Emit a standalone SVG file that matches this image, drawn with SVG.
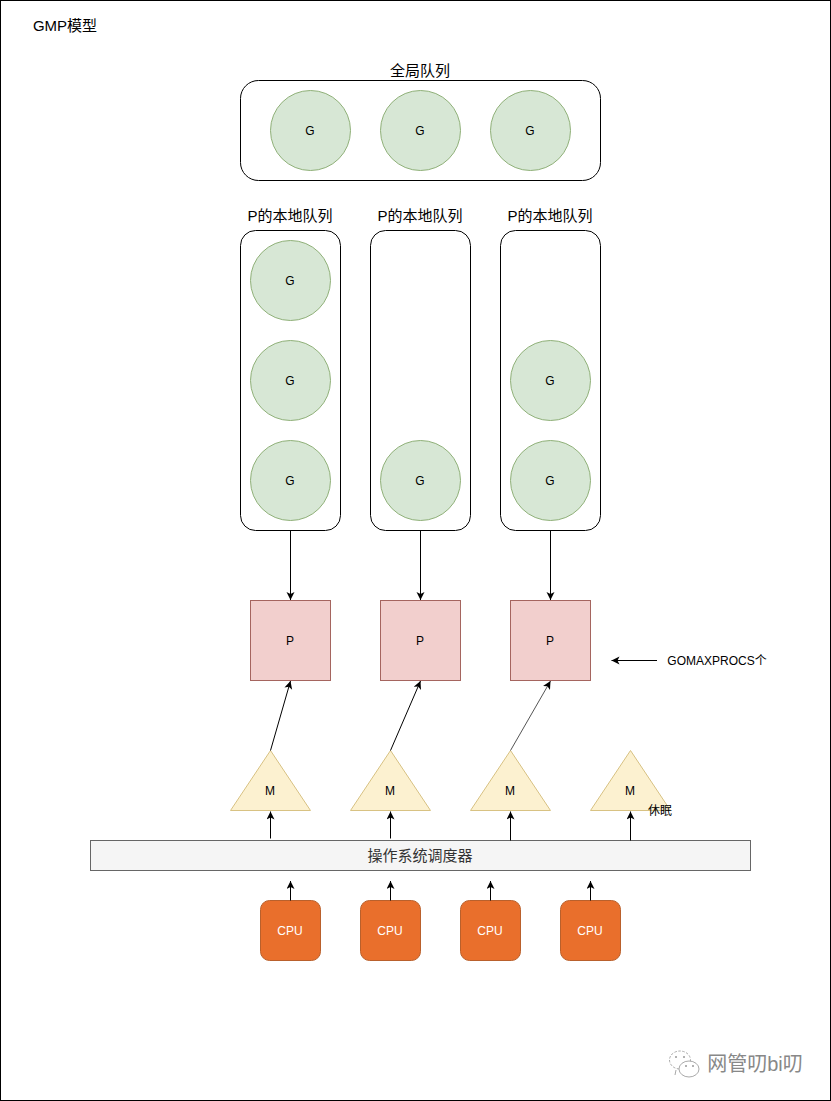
<svg xmlns="http://www.w3.org/2000/svg" width="831" height="1101" viewBox="0 0 831 1101">
<defs>
<style>
text{font-family:"Liberation Sans","Noto Sans CJK SC",sans-serif;fill:#000;text-anchor:middle;font-size:12px}
.t14{font-size:15px}
.box{fill:#fff;stroke:#000;stroke-width:1}
.g{fill:#d7e7d5;stroke:#8fb078;stroke-width:1}
.p{fill:#f2cfcd;stroke:#a5655f;stroke-width:1}
.m{fill:#fcf1d0;stroke:#d8c283;stroke-width:1}
.cpu{fill:#e96f2c;stroke:#b9602c;stroke-width:1}
.c{stroke:#000;stroke-width:1;fill:none;marker-end:url(#a)}
</style>
<marker id="a" markerUnits="userSpaceOnUse" markerWidth="10" markerHeight="10" refX="8" refY="4" orient="auto"><path d="M0 0L8 4L0 8L2 4Z" fill="#000"/></marker>
</defs>
<rect x="0" y="0" width="831" height="1101" fill="#fff"/>
<rect x="0.5" y="0.5" width="830" height="1100" fill="none" stroke="#000"/>
<text id="title" x="65" y="31" class="t14">GMP模型</text>
<g id="global-queue">
<rect class="box" x="240.500" y="80.500" width="360" height="100" rx="18"/>
<text x="420" y="76" class="t14">全局队列</text>
</g>
<g id="global-g1"><circle class="g" cx="310.500" cy="130.500" r="40"/><text x="310" y="135">G</text></g>
<g id="global-g2"><circle class="g" cx="420.500" cy="130.500" r="40"/><text x="420" y="135">G</text></g>
<g id="global-g3"><circle class="g" cx="530.500" cy="130.500" r="40"/><text x="530" y="135">G</text></g>
<g id="local-queue-1"><rect class="box" x="240.500" y="230.500" width="100" height="300" rx="15"/><text x="290" y="221" class="t14">P的本地队列</text></g>
<g id="local-queue-2"><rect class="box" x="370.500" y="230.500" width="100" height="300" rx="15"/><text x="420" y="221" class="t14">P的本地队列</text></g>
<g id="local-queue-3"><rect class="box" x="500.500" y="230.500" width="100" height="300" rx="15"/><text x="550" y="221" class="t14">P的本地队列</text></g>
<g id="q1-g1"><circle class="g" cx="290.500" cy="280.500" r="40"/><text x="290" y="285">G</text></g>
<g id="q1-g2"><circle class="g" cx="290.500" cy="380.500" r="40"/><text x="290" y="385">G</text></g>
<g id="q1-g3"><circle class="g" cx="290.500" cy="480.500" r="40"/><text x="290" y="485">G</text></g>
<g id="q2-g1"><circle class="g" cx="420.500" cy="480.500" r="40"/><text x="420" y="485">G</text></g>
<g id="q3-g1"><circle class="g" cx="550.500" cy="380.500" r="40"/><text x="550" y="385">G</text></g>
<g id="q3-g2"><circle class="g" cx="550.500" cy="480.500" r="40"/><text x="550" y="485">G</text></g>
<g id="p1"><rect class="p" x="250.500" y="600.500" width="80" height="80"/><text x="290" y="645">P</text></g>
<g id="p2"><rect class="p" x="380.500" y="600.500" width="80" height="80"/><text x="420" y="645">P</text></g>
<g id="p3"><rect class="p" x="510.500" y="600.500" width="80" height="80"/><text x="550" y="645">P</text></g>
<g id="m1"><path class="m" d="M270.500 750.500L310.500 810.500H230.500Z"/><text x="270" y="795">M</text></g>
<g id="m2"><path class="m" d="M390.500 750.500L430.500 810.500H350.500Z"/><text x="390" y="795">M</text></g>
<g id="m3"><path class="m" d="M510.500 750.500L550.500 810.500H470.500Z"/><text x="510" y="795">M</text></g>
<g id="m4"><path class="m" d="M630.500 750.500L670.500 810.500H590.500Z"/><text x="630" y="795">M</text></g>
<g id="scheduler"><rect x="90.500" y="840.500" width="660" height="30" fill="#f5f5f5" stroke="#666"/><text x="420" y="861" class="t14" style="fill:#333">操作系统调度器</text></g>
<g id="cpu1"><rect class="cpu" x="260.500" y="900.500" width="60" height="60" rx="9"/><text x="290" y="935" style="fill:#fff">CPU</text></g>
<g id="cpu2"><rect class="cpu" x="360.500" y="900.500" width="60" height="60" rx="9"/><text x="390" y="935" style="fill:#fff">CPU</text></g>
<g id="cpu3"><rect class="cpu" x="460.500" y="900.500" width="60" height="60" rx="9"/><text x="490" y="935" style="fill:#fff">CPU</text></g>
<g id="cpu4"><rect class="cpu" x="560.500" y="900.500" width="60" height="60" rx="9"/><text x="590" y="935" style="fill:#fff">CPU</text></g>
<g id="connectors">
<path class="c" d="M290.500 530.500V600"/>
<path class="c" d="M420.500 530.500V600"/>
<path class="c" d="M550.500 530.500V600"/>
<path class="c" d="M270.500 750.500L290.500 681"/>
<path class="c" d="M390.500 750.500L420.500 681"/>
<path class="c" d="M510.500 750.500L550.500 681" style="stroke:#555"/>
<path class="c" d="M270.500 838.500V811.500"/>
<path class="c" d="M390.500 838.500V811.500"/>
<path class="c" d="M510.500 840.500V811.500"/>
<path class="c" d="M630.500 840.500V811.500"/>
<path class="c" d="M290.500 900.500V881"/>
<path class="c" d="M390.500 900.500V881"/>
<path class="c" d="M490.500 900.500V881"/>
<path class="c" d="M590.500 900.500V881"/>
<path class="c" d="M657 660.500H611.500"/>
</g>
<text id="gomaxprocs" x="717" y="665">GOMAXPROCS个</text>
<text id="sleep" x="660" y="815">休眠</text>
<g id="watermark">
<g fill="#fff" stroke="#aaa" stroke-width="1">
<path d="M675 1075l1-5" fill="none"/>
<ellipse cx="680" cy="1060" rx="10.500" ry="9" stroke-dasharray="2.500 1.500"/>
<ellipse cx="689" cy="1069" rx="10" ry="8"/>
</g>
<g fill="#999"><circle cx="676" cy="1057" r="1"/><circle cx="684" cy="1057" r="1"/><circle cx="686" cy="1066" r="1"/><circle cx="693" cy="1066" r="1"/></g>
<text x="755" y="1071" style="font-size:20px;fill:#888">网管叨bi叨</text>
</g>
</svg>
